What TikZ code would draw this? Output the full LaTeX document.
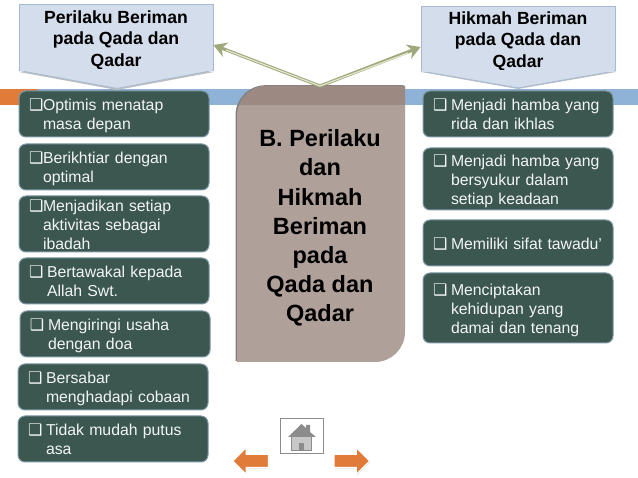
\documentclass[tikz,border=0pt]{standalone}
\usepackage{fontspec}
\setmainfont{Liberation Sans}
\newfontfamily\dejavu{DejaVu Sans}
\usetikzlibrary{arrows.meta, shapes.arrows, shadows, calc}
\definecolor{bandblue}{RGB}{143,179,214}
\definecolor{bandorange}{RGB}{224,123,57}
\definecolor{boxgreen}{RGB}{59,87,80}
\definecolor{boxedge}{RGB}{125,152,165}
\definecolor{headfill}{RGB}{211,221,235}
\definecolor{headedge}{RGB}{166,187,211}
\definecolor{midfill}{RGB}{176,160,154}
\definecolor{midband}{RGB}{155,137,130}
\definecolor{arrowolive}{RGB}{158,168,122}
\definecolor{arrowpale}{RGB}{226,230,205}
\definecolor{navorange}{RGB}{224,123,57}
\definecolor{homegray}{RGB}{140,140,140}
\newcommand{\butir}[2][18pt]{\makebox[#1][l]{\rule{0pt}{18pt}\dejavu\fontsize{16}{19}\selectfont ❑}\begin{tabular}[t]{@{}l@{}}#2\end{tabular}}
\tikzset{
  greenbox/.style={fill=boxgreen, draw=boxedge, line width=1pt, rounded corners=7pt, minimum width=190pt,
    text width=170pt, inner xsep=10pt, inner ysep=0pt, align=left, text=white!94!boxgreen,
    font=\fontsize{15.8}{19}\selectfont},
  headbox/.style={fill=headfill, draw=headedge, line width=0.8pt, minimum width=194pt, inner sep=0pt,
    align=center, font=\fontsize{17.6}{21.3}\selectfont\bfseries},
  linkarrow/.style={line width=3.2pt, arrowolive, -{Stealth[length=13pt,width=15pt]}},
  linkinner/.style={line width=1.2pt, arrowpale},
  navarrow/.style={single arrow, fill=navorange, draw=white, line width=1.5pt, minimum height=36pt,
    single arrow head extend=7pt, single arrow head indent=0pt, inner xsep=0pt, inner ysep=0pt,
    drop shadow={shadow xshift=0.8pt, shadow yshift=-0.8pt, fill=black!35}},
  panelpath/.style={insert path={(237,362) -- (237,116) .. controls (237,99.5) and (250.5,86) .. (267,86)
    -- (405,86) -- (405,332) .. controls (405,348.5) and (391.5,362) .. (375,362) -- cycle}}
}
\begin{document}
\begin{tikzpicture}[x=1pt, y=-1pt]
  \useasboundingbox (0,0) rectangle (638,478);
  % Band
  \fill[bandblue] (38,89) rectangle (638,105);
  \fill[bandorange] (0,89) rectangle (38,105);

  % Centre panel
  \fill[black!50, xshift=-1.5pt, yshift=0.8pt, panelpath];
  \fill[midfill, panelpath];
  \begin{scope}
    \clip (230,80) rectangle (410,105);
    \fill[midband, panelpath];
  \end{scope}
  \node[align=center, font=\fontsize{23.5}{29.2}\selectfont\bfseries] (tengah) at (320,228) {B. Perilaku\\dan\\Hikmah\\Beriman\\pada\\Qada dan\\Qadar};
  \coordinate (asal) at (320,86);

  % Header boxes
  \fill[black!25] (19,72) -- (117,90) -- (214,72) -- cycle;
  \node[headbox, minimum height=66pt] (perilaku) at (116,37) {\rule{0pt}{19pt}Perilaku Beriman\\pada Qada dan\\Qadar};
  \filldraw[fill=headfill, draw=headedge, line width=0.8pt] (perilaku.south west) -- ($(perilaku.south)+(1,18)$) -- (perilaku.south east);
  \fill[headfill] ($(perilaku.south west)+(1,-1)$) rectangle ($(perilaku.south east)+(-1,1)$);
  \fill[black!25] (421,72) -- (518,89) -- (616,72) -- cycle;
  \node[headbox, minimum height=63pt] (hikmah) at (518,38.5) {\rule{0pt}{18pt}Hikmah Beriman\\pada Qada dan\\Qadar};
  \filldraw[fill=headfill, draw=headedge, line width=0.8pt] (hikmah.south west) -- ($(hikmah.south)+(0,17)$) -- (hikmah.south east);
  \fill[headfill] ($(hikmah.south west)+(1,-1)$) rectangle ($(hikmah.south east)+(-1,1)$);

  % Arrows from the panel
  \draw[linkarrow] (asal) -- (perilaku.east |- 0,45);
  \draw[linkarrow] (asal) -- (hikmah.west |- 0,47);
  \draw[linkinner] (asal) -- (226,50);
  \draw[linkinner] (asal) -- (408,53);

  % Left list
  \node[greenbox, minimum height=46pt] (kiri1) at (114,114) {\butir[14pt]{Optimis menatap\\masa depan}};
  \node[greenbox, minimum height=46pt] (kiri2) at (114,167) {\butir[14pt]{Berikhtiar dengan\\optimal}};
  \node[greenbox, minimum height=56pt, inner ysep=-4pt] (kiri3) at (114,224) {\butir[14pt]{Menjadikan setiap\\aktivitas sebagai\\ibadah}};
  \node[greenbox, minimum height=46pt] (kiri4) at (114,281) {\butir{Bertawakal kepada\\Allah Swt.}};
  \node[greenbox, minimum height=46pt] (kiri5) at (115,334) {\butir{Mengiringi usaha\\dengan doa}};
  \node[greenbox, minimum height=46pt] (kiri6) at (113,387) {\butir{Bersabar\\menghadapi cobaan}};
  \node[greenbox, minimum height=46pt] (kiri7) at (113,439) {\butir{Tidak mudah putus\\asa}};

  % Right list
  \node[greenbox, minimum height=46pt] (kanan1) at (518,114) {\butir{Menjadi hamba yang\\rida dan ikhlas}};
  \node[greenbox, minimum height=62pt] (kanan2) at (518,179) {\butir{Menjadi hamba yang\\bersyukur dalam\\setiap keadaan}};
  \node[greenbox, minimum height=46pt] (kanan3) at (518,243) {\butir{Memiliki sifat tawadu’}};
  \node[greenbox, minimum height=70pt] (kanan4) at (518,308) {\butir{Menciptakan\\kehidupan yang\\damai dan tenang}};

  % Home button
  \node[draw=homegray, line width=1pt, minimum width=43pt, minimum height=35pt, inner sep=0pt] (beranda) at (301.5,436.5) {};
  \filldraw[fill=black!22, draw=homegray] (291.5,435) rectangle (311.5,450);
  \fill[homegray] (288,437) -- (301.5,424) -- (306,428) -- (306,425) -- (310,425) -- (310,432) -- (316,437) -- cycle;
  \fill[homegray] (299,443) rectangle (304,450);

  % Navigation arrows
  \node[navarrow, shape border rotate=180] (mundur) at (254,461) {\rule{0pt}{12pt}};
  \node[navarrow] (maju) at (348.5,461) {\rule{0pt}{12pt}};
\end{tikzpicture}
\end{document}
